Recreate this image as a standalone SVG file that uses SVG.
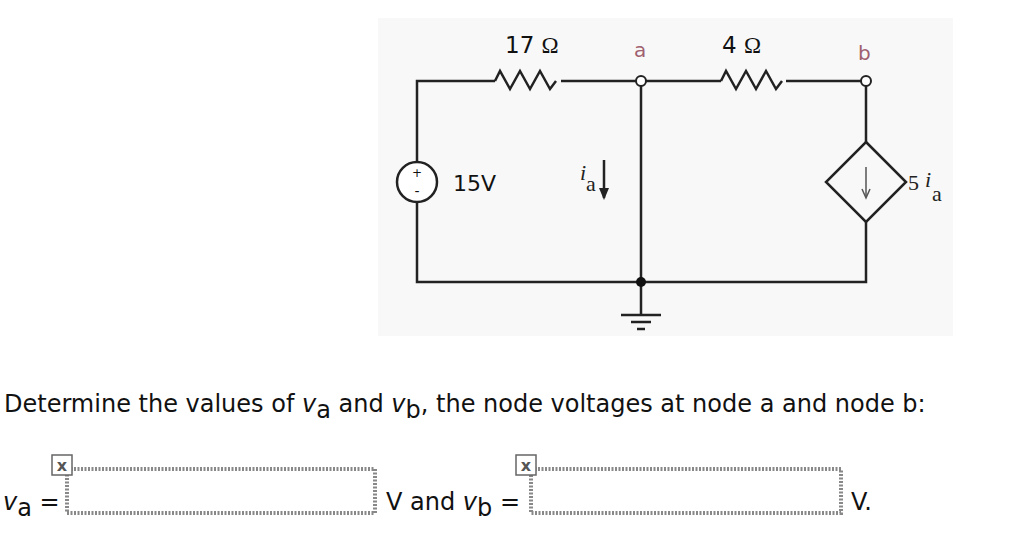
<svg xmlns="http://www.w3.org/2000/svg" width="1010" height="534" viewBox="0 0 1010 534">
<style>
.w{fill:none;stroke:#222;stroke-width:2.5}
.t{font-family:"DejaVu Sans",sans-serif;fill:#111}
.s{font-family:"Liberation Serif",serif;fill:#222}
.box{fill:#fff;stroke:#888;stroke-width:4;stroke-dasharray:2 1.5}
.x{fill:#fff;stroke:#666;stroke-width:1.5}
</style>
<rect x="378" y="18" width="575" height="318" fill="#f8f8f8"/>
<g id="connectors">
<path class="w" d="M417,162 V81 H495 M561,81 H721 M786,81 H866 V142 M866,222 V282 H417 V202 M641,81 V315"/>
</g>
<g id="r17"><path class="w" d="M495,81 l5,-10 l10,18 l10,-18 l10,18 l10,-18 l10,18 l6,-8"/><text class="t" x="505" y="53" font-size="23">17 <tspan font-family="Liberation Serif">Ω</tspan></text></g>
<g id="r4"><path class="w" d="M721,81 l5,-10 l10,18 l10,-18 l10,18 l10,-18 l10,18 l6,-8"/><text class="t" x="722" y="53" font-size="23">4  <tspan font-family="Liberation Serif">Ω</tspan></text></g>
<g id="node-a"><circle cx="641" cy="81" r="5" fill="#fff" stroke="#222" stroke-width="2"/><text class="t" x="634" y="57" font-size="20" style="fill:#a06070">a</text></g>
<g id="node-b"><circle cx="866" cy="81" r="5" fill="#fff" stroke="#222" stroke-width="2"/><text class="t" x="858" y="60" font-size="20" style="fill:#a06070">b</text></g>
<g id="vsrc"><circle cx="417" cy="182" r="20" fill="#fff" stroke="#222" stroke-width="2.5"/><text class="t" x="417" y="177" font-size="12" text-anchor="middle">+</text><text class="t" x="417" y="196" font-size="14" text-anchor="middle">-</text><text class="t" x="453" y="191" font-size="22">15V</text></g>
<g id="ia"><text class="s" x="580" y="180" font-size="22" font-style="italic">i</text><text class="s" x="586" y="191" font-size="22">a</text><path class="w" d="M604,160 V198" stroke-width="2"/><path d="M599,188 L604,200 L609,188 Z" fill="#222"/></g>
<g id="dep"><path class="w" d="M866,142 L906,182 L866,222 L826,182 Z" fill="#fff"/><path d="M866,167 V196" stroke="#555" stroke-width="1.5"/><path d="M862,189 L866,198 L870,189" fill="none" stroke="#555" stroke-width="1.5"/><text class="s" x="908" y="190" font-size="22">5</text><text class="s" x="925" y="187" font-size="22" font-style="italic">i</text><text class="s" x="932" y="201" font-size="22">a</text></g>
<g id="ground"><circle cx="641" cy="282" r="5" fill="#111"/><path class="w" d="M621,315 H661 M631,322 H651 M637,329 H645"/></g>
<text class="t" x="4" y="412" font-size="24">Determine the values of <tspan font-style="italic">v</tspan><tspan dy="6">a</tspan><tspan dy="-6"> and </tspan><tspan font-style="italic">v</tspan><tspan dy="6">b</tspan><tspan dy="-6">, the node voltages at node a and node b:</tspan></text>
<text class="t" x="3" y="510" font-size="24"><tspan font-style="italic">v</tspan><tspan dy="6">a</tspan><tspan dy="-6"> =</tspan></text>
<rect class="box" x="67" y="469" width="308" height="44"/>
<rect class="x" x="52" y="455" width="20" height="20"/><text class="t" x="62" y="471" font-size="16" font-weight="bold" text-anchor="middle" style="fill:#555">x</text>
<text class="t" x="386" y="510" font-size="24">V and <tspan font-style="italic">v</tspan><tspan dy="6">b</tspan><tspan dy="-6"> =</tspan></text>
<rect class="box" x="531" y="469" width="310" height="44"/>
<rect class="x" x="516" y="455" width="20" height="20"/><text class="t" x="526" y="471" font-size="16" font-weight="bold" text-anchor="middle" style="fill:#555">x</text>
<text class="t" x="851" y="510" font-size="24">V.</text>
</svg>
